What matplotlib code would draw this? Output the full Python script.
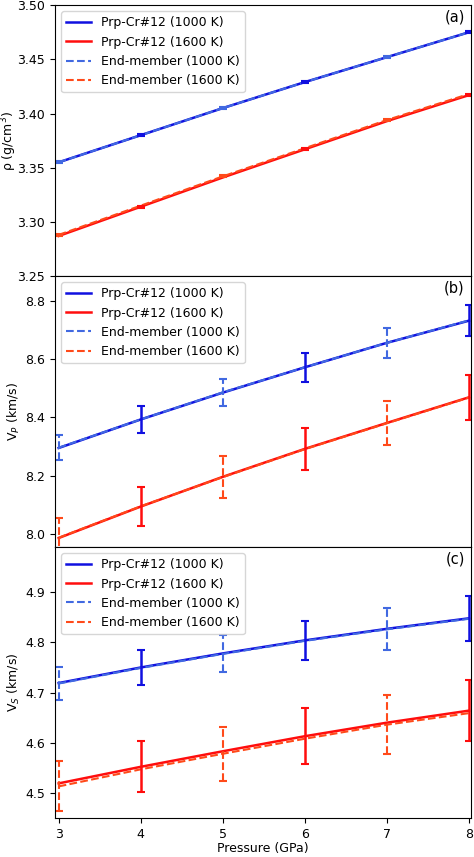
import matplotlib
matplotlib.use("Agg")
import matplotlib.pyplot as plt
import numpy as np

plt.rcParams['font.family'] = ['DejaVu Sans']
plt.rcParams['font.size'] = 9

pressure = [3, 4, 5, 6, 7, 8]
p_prp_err = [4, 6, 8]
p_em_err = [3, 5, 7]

# (a) density
rho_prp_1000 = [3.355, 3.380, 3.405, 3.429, 3.452, 3.475]
rho_prp_1600 = [3.287, 3.314, 3.341, 3.367, 3.393, 3.417]
rho_em_1000 = [3.355, 3.380, 3.405, 3.429, 3.452, 3.475]
rho_em_1600 = [3.288, 3.315, 3.342, 3.368, 3.394, 3.418]
rho_err_prp_1000 = [0.001, 0.001, 0.001]
rho_err_prp_1600 = [0.001, 0.001, 0.001]
rho_err_em_1000 = [0.001, 0.001, 0.001]
rho_err_em_1600 = [0.001, 0.001, 0.001]

# (b) Vp
vp_prp_1000 = [8.295, 8.393, 8.485, 8.572, 8.656, 8.732]
vp_prp_1600 = [7.986, 8.094, 8.196, 8.292, 8.381, 8.469]
vp_em_1000 = [8.296, 8.393, 8.486, 8.572, 8.656, 8.733]
vp_em_1600 = [7.987, 8.095, 8.195, 8.291, 8.380, 8.468]
vp_err_prp_1000 = [0.045, 0.049, 0.053]
vp_err_prp_1600 = [0.068, 0.073, 0.078]
vp_err_em_1000 = [0.043, 0.047, 0.051]
vp_err_em_1600 = [0.066, 0.072, 0.076]

# (c) Vs
vs_prp_1000 = [4.719, 4.750, 4.778, 4.804, 4.827, 4.848]
vs_prp_1600 = [4.519, 4.552, 4.583, 4.613, 4.640, 4.664]
vs_em_1000 = [4.718, 4.749, 4.777, 4.803, 4.826, 4.847]
vs_em_1600 = [4.513, 4.547, 4.578, 4.608, 4.636, 4.659]
vs_err_prp_1000 = [0.034, 0.039, 0.045]
vs_err_prp_1600 = [0.051, 0.056, 0.061]
vs_err_em_1000 = [0.032, 0.037, 0.042]
vs_err_em_1600 = [0.050, 0.054, 0.059]

labels = ['Prp-Cr#12 (1000 K)', 'Prp-Cr#12 (1600 K)',
          'End-member (1000 K)', 'End-member (1600 K)']
c_prp_1000 = '#1010e0'
c_prp_1600 = '#ff0d0d'
c_em_1000 = '#4169e1'
c_em_1600 = '#ff4a1a'

panels = [
    (rho_prp_1000, rho_prp_1600, rho_em_1000, rho_em_1600,
     rho_err_prp_1000, rho_err_prp_1600, rho_err_em_1000, rho_err_em_1600,
     r'ρ (g/cm$^3$)', (3.25, 3.50), [3.25, 3.30, 3.35, 3.40, 3.45, 3.50], '{:.2f}', '(a)', -0.087),
    (vp_prp_1000, vp_prp_1600, vp_em_1000, vp_em_1600,
     vp_err_prp_1000, vp_err_prp_1600, vp_err_em_1000, vp_err_em_1600,
     r'V$_P$ (km/s)', (7.955, 8.885), [8.0, 8.2, 8.4, 8.6, 8.8], '{:.1f}', '(b)', -0.079),
    (vs_prp_1000, vs_prp_1600, vs_em_1000, vs_em_1600,
     vs_err_prp_1000, vs_err_prp_1600, vs_err_em_1000, vs_err_em_1600,
     r'V$_S$ (km/s)', (4.45, 4.99), [4.5, 4.6, 4.7, 4.8, 4.9], '{:.1f}', '(c)', -0.079),
]

fig, axes = plt.subplots(3, 1, figsize=(4.74, 8.57), dpi=100, sharex=True)
fig.subplots_adjust(left=0.116, right=0.9937, top=0.994, bottom=0.0455, hspace=0)

idx_prp = [pressure.index(p) for p in p_prp_err]
idx_em = [pressure.index(p) for p in p_em_err]

for ax, (a1, a2, e1, e2, ea1, ea2, ee1, ee2, ylab, ylim, yt, fmt, tag, lx) in zip(axes, panels):
    ax.plot(pressure, a1, color=c_prp_1000, lw=1.8, label=labels[0])
    ax.plot(pressure, a2, color=c_prp_1600, lw=1.8, label=labels[1])
    ax.plot(pressure, e1, color=c_em_1000, lw=1.5, ls='--', label=labels[2])
    ax.plot(pressure, e2, color=c_em_1600, lw=1.5, ls='--', label=labels[3])
    ax.errorbar(p_prp_err, [a1[i] for i in idx_prp], yerr=ea1, fmt='none',
                ecolor=c_prp_1000, elinewidth=1.8, capsize=3, capthick=1.5)
    ax.errorbar(p_prp_err, [a2[i] for i in idx_prp], yerr=ea2, fmt='none',
                ecolor=c_prp_1600, elinewidth=1.8, capsize=3, capthick=1.5)
    eb = ax.errorbar(p_em_err, [e1[i] for i in idx_em], yerr=ee1, fmt='none',
                     ecolor=c_em_1000, elinewidth=1.5, capsize=3, capthick=1.5)
    eb[-1][0].set_linestyle('--')
    eb = ax.errorbar(p_em_err, [e2[i] for i in idx_em], yerr=ee2, fmt='none',
                     ecolor=c_em_1600, elinewidth=1.5, capsize=3, capthick=1.5)
    eb[-1][0].set_linestyle('--')
    ax.set_ylim(*ylim)
    ax.set_yticks(yt)
    ax.set_yticklabels([fmt.format(v) for v in yt])
    ax.set_ylabel(ylab)
    ax.yaxis.set_label_coords(lx, 0.5)
    ax.legend(loc='upper left', fontsize=9, framealpha=0.8)
    ax.text(0.985, 0.985, tag, transform=ax.transAxes, ha='right', va='top', fontsize=10.5)

axes[-1].set_xlim(2.955, 8.025)
axes[-1].set_xticks(pressure)
axes[-1].set_xlabel('Pressure (GPa)', labelpad=1)

fig.savefig('out.png', dpi=100)
